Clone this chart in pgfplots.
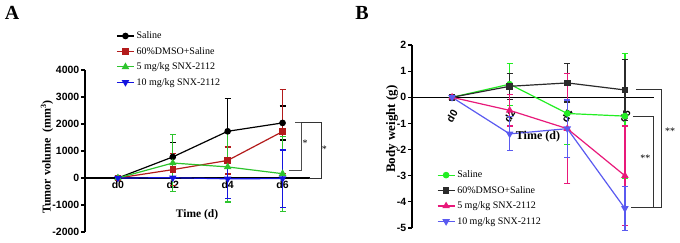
\documentclass[border=0pt]{standalone}
\usepackage{fontspec}
\setmainfont{Liberation Serif}
\newfontfamily\arial{Liberation Sans}
\usepackage{pgfplots}
\pgfplotsset{compat=1.18}
\definecolor{aRed}{HTML}{B31B1B}
\definecolor{aGreen}{HTML}{2EC42E}
\definecolor{aBlue}{HTML}{1414E0}
\definecolor{bGreen}{HTML}{22EE22}
\definecolor{bDark}{HTML}{2B2B2B}
\definecolor{bPink}{HTML}{E8197A}
\definecolor{bBlue}{HTML}{5A5AF0}
\pgfplotsset{
  panel/.style={
    scale only axis, clip=false,
    axis y line*=left, axis x line*=middle,
    x axis line style={-, line width=1.3pt},
    y axis line style={-, line width=1.3pt},
    hide obscured x ticks=false, hide obscured y ticks=false,
    xtick={0,2,4,6}, xticklabels={d0,d2,d4,d6},
    major x tick style={draw=none},
    ytick style={line width=1.2pt, black},
    tick align=outside, major tick length=4pt,
    /pgf/number format/assume math mode=true,
    /pgf/number format/1000 sep={},
    ticklabel style={font=\arial\bfseries\fontsize{10.5}{12}\selectfont},
    yticklabel style={inner sep=1.5pt},
    every axis plot/.append style={line width=1.2pt},
    legend style={draw=none, fill=none, font=\fontsize{10}{12}\selectfont, row sep=3pt},
    legend cell align=left,
  },
  eb/.style={error bars/.cd, y dir=both, y explicit,
    error bar style={line width=1.2pt},
    error mark options={rotate=90, mark size=3pt, line width=1.2pt}},
}
\begin{document}
\begin{tikzpicture}
\useasboundingbox (0,0) rectangle (680pt,243pt);
% ---------------- Panel A
\begin{axis}[panel, at={(85pt,11pt)}, anchor=south west,
  width=225pt, height=162pt,
  xmin=-1.2, xmax=7.0, ymin=-2000, ymax=4000,
  ytick={-2000,-1000,0,1000,2000,3000,4000},
  xticklabel style={anchor=north, yshift=4.5pt},
  legend style={at={(0.125,1.262)}, anchor=north west},
]
\addplot+[black, mark=*, mark size=2.7pt, mark options={solid, fill=black}, eb] coordinates {
 (0,0) +- (0,0) (2,780) +- (0,540) (4,1730) +- (0,1200) (6,2040) +- (0,630)};
\addlegendentry{Saline}
\addplot+[aRed, mark=square*, mark size=2.7pt, mark options={solid, fill=aRed}, eb] coordinates {
 (0,0) +- (0,0) (2,310) +- (0,590) (4,650) +- (0,500) (6,1720) +- (0,1550)};
\addlegendentry{60\%DMSO+Saline}
\addplot+[aGreen, mark=triangle*, mark size=3.2pt, mark options={solid, fill=aGreen}, eb] coordinates {
 (0,0) +- (0,0) (2,555) +- (0,1050) (4,410) +- (0,1300) (6,160) +- (0,1390)};
\addlegendentry{5 mg/kg SNX-2112}
\addplot+[aBlue, mark=triangle*, mark size=3.2pt, mark options={solid, fill=aBlue, rotate=180}, eb] coordinates {
 (0,0) +- (0,0) (2,10) +- (0,40) (4,-30) +- (0,740) (6,-20) +- (0,1060)};
\addlegendentry{10 mg/kg SNX-2112}
\draw[gray!60!black, line width=0.8pt] (axis cs:6.22,280) -- (axis cs:6.69,280) -- (axis cs:6.69,2050) -- (axis cs:6.44,2050);
\draw[black!80, line width=0.8pt] (axis cs:6.69,2050) -- (axis cs:7.42,2050) -- (axis cs:7.42,-20) -- (axis cs:6.98,-20);
\node[font=\fontsize{10}{12}\selectfont] at (axis cs:6.82,1300) {*};
\node[font=\fontsize{10}{12}\selectfont] at (axis cs:7.52,1080) {*};
\end{axis}
% ---------------- Panel B
\begin{axis}[panel, at={(412pt,15pt)}, anchor=south west,
  width=242pt, height=183pt,
  xmin=-1.39, xmax=7.01, ymin=-5, ymax=2,
  ytick={-5,-4,-3,-2,-1,0,1,2},
  xticklabel style={rotate=60, anchor=center},
  xticklabel shift=15pt,
  legend style={at={(0.09,0.335)}, anchor=north west},
]
\addplot+[bGreen, mark=*, mark size=2.7pt, mark options={solid, fill=bGreen}, eb] coordinates {
 (0,0) +- (0,0) (2,0.5) +- (0,0.8) (4,-0.62) +- (0,1.2) (6,-0.72) +- (0,2.4)};
\addlegendentry{Saline}
\addplot+[bDark, mark=square*, mark size=2.7pt, mark options={solid, fill=bDark}, eb] coordinates {
 (0,0) +- (0,0) (2,0.42) +- (0,0.5) (4,0.55) +- (0,0.73) (6,0.28) +- (0,1.17)};
\addlegendentry{60\%DMSO+Saline}
\addplot+[bPink, mark=triangle*, mark size=3.2pt, mark options={solid, fill=bPink}, eb] coordinates {
 (0,0) +- (0,0) (2,-0.5) +- (0,0.6) (4,-1.2) +- (0,2.1) (6,-3.0) +- (0,1.9)};
\addlegendentry{5 mg/kg SNX-2112}
\addplot+[bBlue, mark=triangle*, mark size=3.2pt, mark options={solid, fill=bBlue, rotate=180}, eb] coordinates {
 (0,0) +- (0,0) (2,-1.4) +- (0,0.65) (4,-1.2) +- (0,1.1) (6,-4.25) +- (0,0.85)};
\addlegendentry{10 mg/kg SNX-2112}
\draw[black!80, line width=0.8pt] (axis cs:6.38,0.31) -- (axis cs:7.28,0.31) -- (axis cs:7.28,-4.22) -- (axis cs:6.2,-4.22);
\draw[black!80, line width=0.8pt] (axis cs:6.28,-0.75) -- (axis cs:6.99,-0.75) -- (axis cs:6.99,-4.22);
\node[font=\fontsize{10}{12}\selectfont] at (axis cs:6.71,-2.35) {**};
\node[font=\fontsize{10}{12}\selectfont] at (axis cs:7.57,-1.28) {**};
\end{axis}
% ---------------- texts
\node[font=\bfseries\fontsize{20}{22}\selectfont] at (12pt,230pt) {A};
\node[font=\bfseries\fontsize{20}{22}\selectfont] at (362pt,230pt) {B};
\node[font=\bfseries\fontsize{11.5}{13}\selectfont] at (197pt,28pt) {Time (d)};
\node[font=\bfseries\fontsize{12}{13}\selectfont] at (538pt,106pt) {Time (d)};
\node[font=\bfseries\fontsize{12}{13}\selectfont, rotate=90] at (47pt,86pt) {Tumor volume\ \ (mm$^{\mathbf{3}}$)};
\node[font=\bfseries\fontsize{13}{15}\selectfont, rotate=90] at (392pt,114pt) {Body weight (g)};
\end{tikzpicture}
\end{document}
